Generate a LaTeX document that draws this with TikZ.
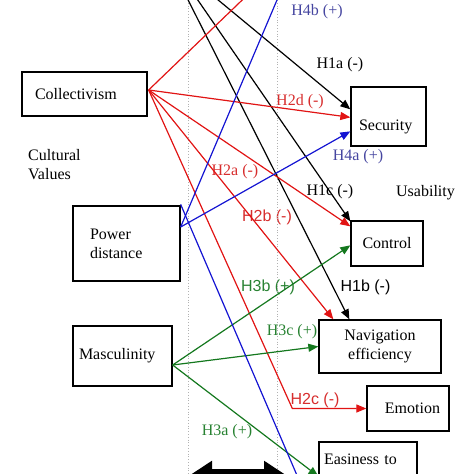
\documentclass[tikz,border=0pt]{standalone}
\usepackage{fontspec}
\setmainfont{Liberation Serif}
\setsansfont{Liberation Sans}
\usepackage{xcolor}
\usetikzlibrary{positioning, calc, arrows.meta}

\definecolor{hypred}{RGB}{225,20,20}
\definecolor{hypblue}{RGB}{20,20,210}
\definecolor{hypgreen}{RGB}{20,120,30}
\definecolor{tagred}{RGB}{215,45,45}
\definecolor{tagblue}{RGB}{70,70,160}
\definecolor{taggreen}{RGB}{40,130,50}

\begin{document}
\begin{tikzpicture}[
    x=1pt, y=-1pt,
    font=\fontsize{16}{19}\selectfont,
    varbox/.style={draw, rectangle, line width=1.3pt, inner sep=0pt, align=center},
    hyp/.style={line width=1.2pt, -{Triangle[length=10pt, width=8pt]}},
    link/.style={line width=1.2pt},
    hyptag/.style={inner sep=0pt},
    sanstag/.style={inner sep=0pt, font=\fontsize{16}{19}\selectfont\sffamily}
]
    \useasboundingbox (0,0) rectangle (474,474);
    \clip (0,0) rectangle (474,474);

    % Cultural dimensions
    \node[varbox, minimum width=125pt, minimum height=44pt, text width=99pt, inner xsep=13pt, align=left] (coll) at (84.5,94) {Collectivism};
    \node[varbox, minimum width=107pt, minimum height=75pt, text width=73pt, inner xsep=17pt, align=left] (pd) at (126.5,243.5) {Power\\distance};
    \node[varbox, minimum width=99pt, minimum height=60pt, text width=87pt, inner xsep=6pt, align=left] (masc) at (122.5,356) {Masculinity};
    \node[anchor=west, align=left, inner sep=0pt] (cult) at (28,165) {Cultural\\Values};

    % Usability factors
    \node[varbox, minimum width=75pt, text width=59pt, inner xsep=8pt, align=left, text height=43pt, text depth=16pt] (sec) at (388.5,116.5) {Security};
    \node[varbox, minimum width=72pt, minimum height=45pt] (ctrl) at (387,243.5) {Control};
    \node[varbox, minimum width=122pt, minimum height=53pt] (nav) at (380,346.5) {Navigation\\efficiency};
    \node[varbox, minimum width=82pt, minimum height=45pt, text width=64pt, inner xsep=9pt, align=right] (emo) at (408,408.5) {Emotion};
    \node[varbox, minimum width=98pt, text width=88pt, inner xsep=5pt, align=left, text height=22pt, text depth=30pt] (eas) at (368,468) {Easiness to};
    \node[hyptag] (usab) at (425.5,193) {Usability};

    % Hypothesis tags
    \node[hyptag, text=tagblue] (h4b) at (317,12) {H4b (+)};
    \node[hyptag] (h1a) at (340,65) {H1a (-)};
    \node[hyptag, text=tagred] (h2d) at (300,102) {H2d (-)};
    \node[hyptag, text=tagblue] (h4a) at (358,157) {H4a (+)};
    \node[hyptag, text=tagred] (h2a) at (235,172) {H2a (-)};
    \node[hyptag] (h1c) at (330,192) {H1c (-)};
    \node[sanstag, text=tagred] (h2b) at (267,217) {H2b (-)};
    \node[sanstag, text=taggreen] (h3b) at (268,287) {H3b (+)};
    \node[sanstag] (h1b) at (365.5,287) {H1b (-)};
    \node[hyptag, text=taggreen] (h3c) at (292,332) {H3c (+)};
    \node[sanstag, text=tagred] (h2c) at (315,400) {H2c (-)};
    \node[hyptag, text=taggreen] (h3a) at (227,432) {H3a (+)};

    % Dotted band
    \draw[gray!60, dotted, line width=0.8pt] (188,0) -- (188,474);
    \draw[gray!60, dotted, line width=0.8pt] (277,0) -- (277,474);

    % Start points
    \coordinate (collout) at ($(coll.east)+(1,-4)$);
    \coordinate (pdout) at ($(pd.east)+(0,-16.5)$);
    \coordinate (pdtop) at ($(pd.north east)+(0,-1)$);
    \coordinate (mascout) at ($(masc.east)+(0,9)$);
    \coordinate (h1afrom) at (194,-20);
    \coordinate (h1cfrom) at (184,-20);
    \coordinate (h1bfrom) at (178,-20);
    \coordinate (redup) at (263,-20);
    \coordinate (h4bto) at (285.5,-20);
    \coordinate (bluedown) at (305,494);

    % H1
    \draw[hyp] (h1afrom) -- ($(sec.north west)+(0,23)$);
    \draw[hyp] (h1cfrom) -- ($(ctrl.north west)+(0,1)$);
    \draw[hyp] (h1bfrom) -- ($(nav.north west)+(31,0)$);

    % H2
    \draw[link, hypred] (collout) -- (redup);
    \draw[hyp, hypred] (collout) -- ($(sec.north west)+(0,31)$);
    \draw[hyp, hypred] (collout) -- ($(ctrl.north west)+(0,6)$);
    \draw[hyp, hypred] (collout) -- ($(nav.north west)+(15,0)$);
    \draw[hyp, hypred] (collout) -- ($(emo.west)+(-74,0)$) -- (emo.west);

    % H3
    \draw[hyp, hypgreen] (mascout) -- ($(ctrl.north west)+(0,25)$);
    \draw[hyp, hypgreen] (mascout) -- (nav.west);
    \draw[hyp, hypgreen] (mascout) -- ($(eas.north west)+(0,35)$);

    % H4
    \draw[link, hypblue] (pdout) -- (h4bto);
    \draw[hyp, hypblue] (pdout) -- ($(sec.north west)+(0,45)$);
    \draw[link, hypblue] (pdtop) -- (bluedown);

    % span arrow
    \coordinate (spanl) at (190,475);
    \coordinate (spanr) at (286,475);
    \draw[line width=13pt, {Triangle[length=22pt, width=27pt]}-{Triangle[length=22pt, width=27pt]}] (spanl) -- (spanr);
\end{tikzpicture}
\end{document}
